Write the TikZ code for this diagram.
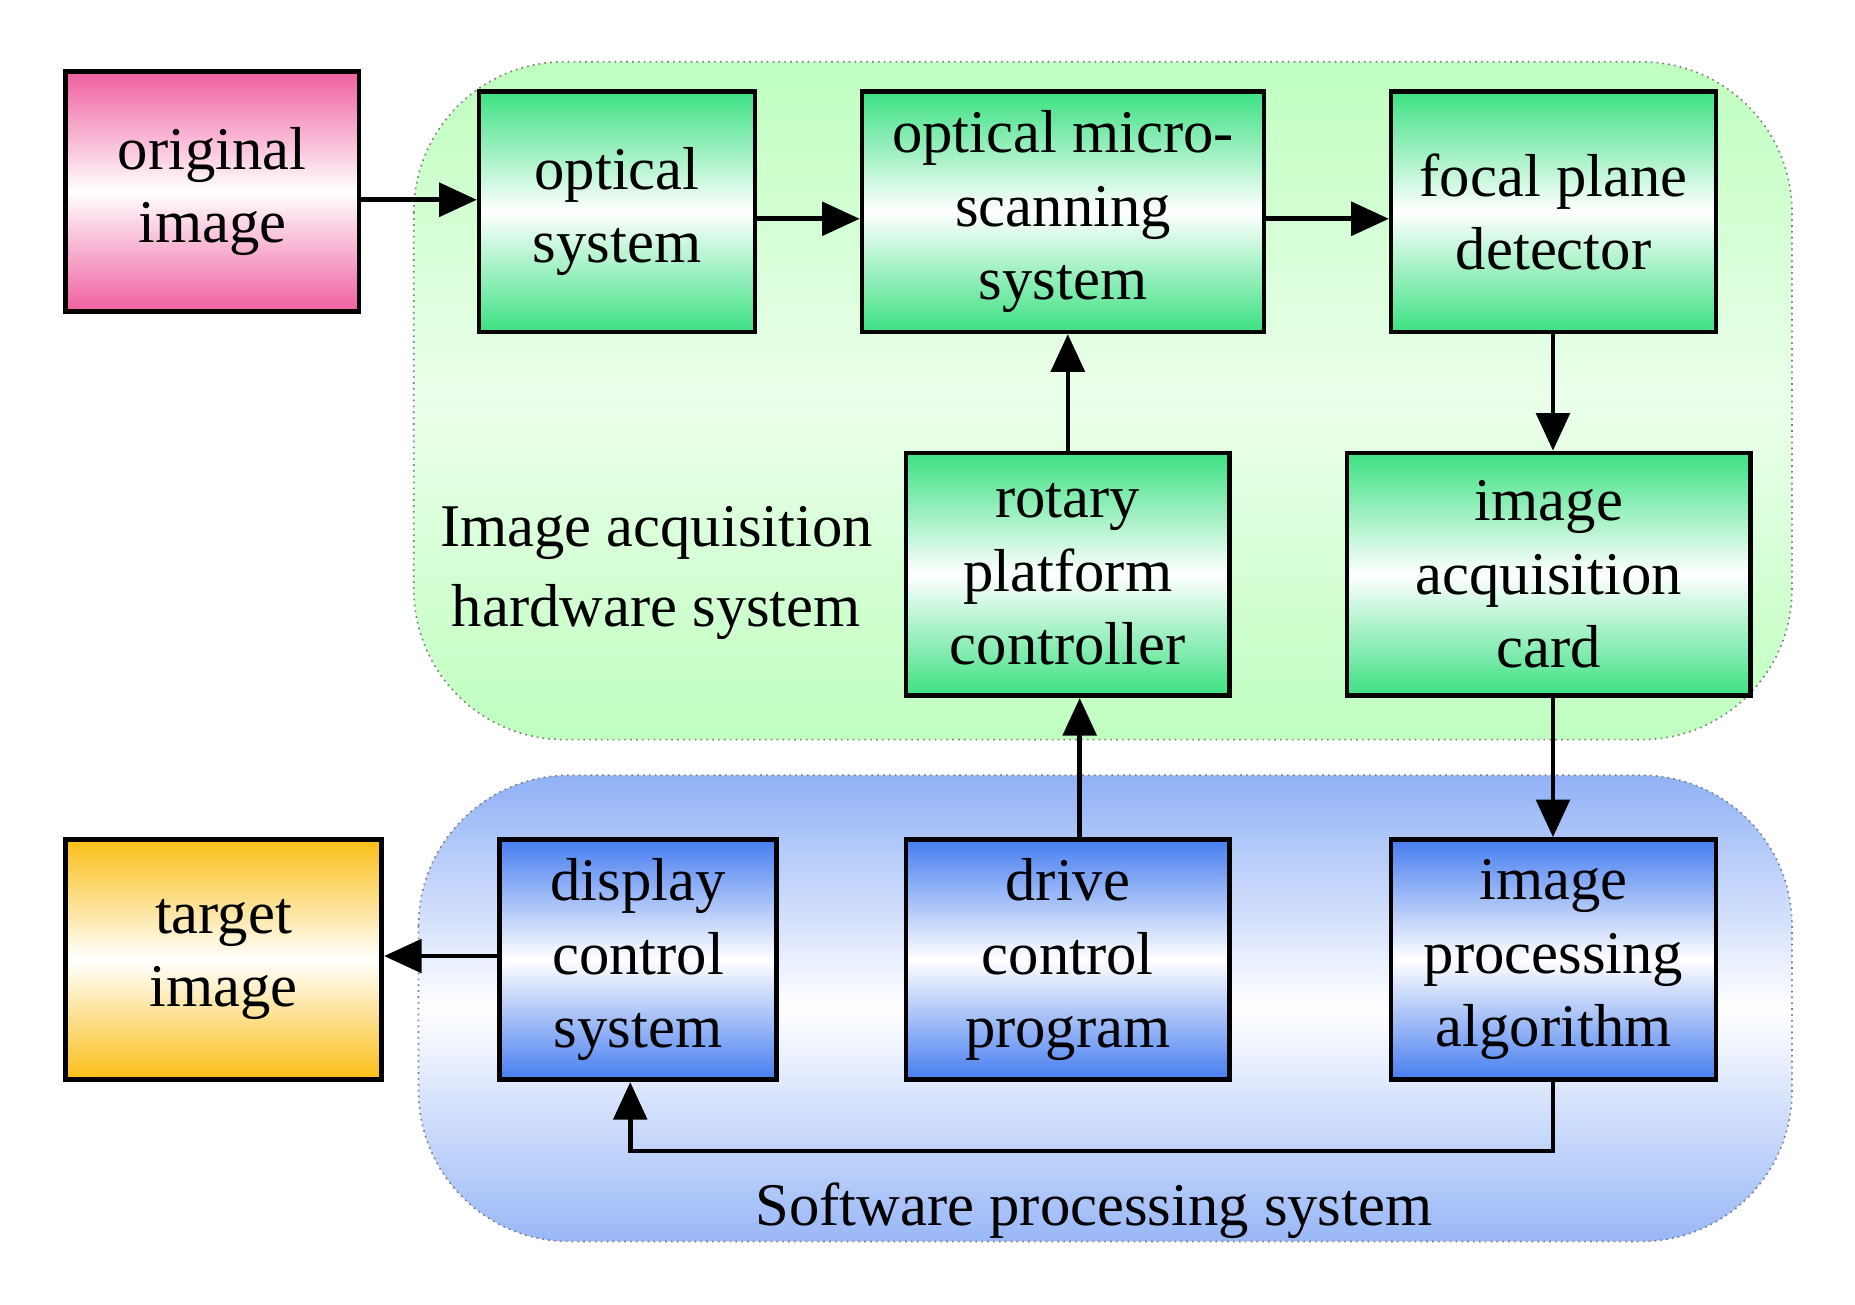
\documentclass[tikz,border=0pt]{standalone}
\usepackage{fontspec}
\setmainfont{Liberation Serif}
\usetikzlibrary{arrows.meta}
\begin{document}
\begin{tikzpicture}[x=0.01cm,y=-0.01cm,
 box/.style={draw=black,line width=1.1pt,align=center,inner sep=0pt,font=\fontsize{14.5}{17.5}\selectfont},
 arr/.style={-{Triangle[length=9pt,width=8pt]},line width=1.1pt},
 cont/.style={rounded corners=36pt,densely dotted,draw=gray}]
\definecolor{gA}{RGB}{60,225,130}
\definecolor{bA}{RGB}{70,125,240}
\definecolor{pA}{RGB}{240,95,160}
\definecolor{yA}{RGB}{250,190,20}
\tikzset{gbox/.style={box,top color=gA,bottom color=gA,middle color=white},
 bbox/.style={box,top color=bA,bottom color=bA,middle color=white}}
\useasboundingbox (0,0) rectangle (1560,1097);
\fill[white] (0,0) rectangle (1560,1097);
\path[cont,top color=green!25,bottom color=green!25,middle color=white!92!green] (348,52) rectangle (1507,622);
\path[cont,top color=bA!60,bottom color=bA!55,middle color=white] (352,652) rectangle (1507,1044);
\node[box,top color=pA,bottom color=pA,middle color=white,minimum width=2.47cm,minimum height=2.02cm] (orig) at (178.5,161) {original\\image};
\node[box,top color=yA,bottom color=yA,middle color=white,minimum width=2.66cm,minimum height=2.02cm] (targ) at (188,807) {target\\image};
\node[gbox,minimum width=2.32cm,minimum height=2.02cm] (opt) at (519,178) {optical\\system};
\node[gbox,minimum width=3.38cm,minimum height=2.02cm] (mic) at (894,178) {optical micro-\\scanning\\system};
\node[gbox,minimum width=2.73cm,minimum height=2.02cm] (foc) at (1306.5,178) {focal plane\\detector};
\node[gbox,minimum width=2.72cm,minimum height=2.04cm] (rot) at (898,483) {rotary\\platform\\controller};
\node[gbox,minimum width=3.39cm,minimum height=2.04cm] (card) at (1302.5,483) {image\\acquisition\\card};
\node[bbox,minimum width=2.33cm,minimum height=2.02cm] (disp) at (536.5,807) {display\\control\\system};
\node[bbox,minimum width=2.72cm,minimum height=2.02cm] (drv) at (898,807) {drive\\control\\program};
\node[bbox,minimum width=2.73cm,minimum height=2.02cm] (proc) at (1306.5,807) {image\\processing\\algorithm};
\node[align=center,font=\fontsize{14.5}{19}\selectfont] (hw) at (552,482) {Image acquisition\\hardware system};
\node[font=\fontsize{14.5}{18}\selectfont] (sw) at (920,1018) {Software processing system};
\draw[arr] (orig.east|-0,168) -- (opt.west|-0,168);
\draw[arr] (opt.east|-0,184) -- (mic.west|-0,184);
\draw[arr] (mic.east|-0,184) -- (foc.west|-0,184);
\draw[arr] (rot.north-|898,0) -- (mic.south-|898,0);
\draw[arr] (drv.north-|908,0) -- (rot.south-|908,0);
\draw[arr] (foc.south-|1306,0) -- (card.north-|1306,0);
\draw[arr] (card.south-|1306,0) -- (proc.north-|1306,0);
\draw[arr] (disp.west|-0,804) -- (targ.east|-0,804);
\coordinate (c1) at (1306,968);
\coordinate (c2) at (530,968);
\draw[arr] (proc.south-|1306,0) -- (c1) -- (c2) -- (disp.south-|530,0);
\end{tikzpicture}
\end{document}
